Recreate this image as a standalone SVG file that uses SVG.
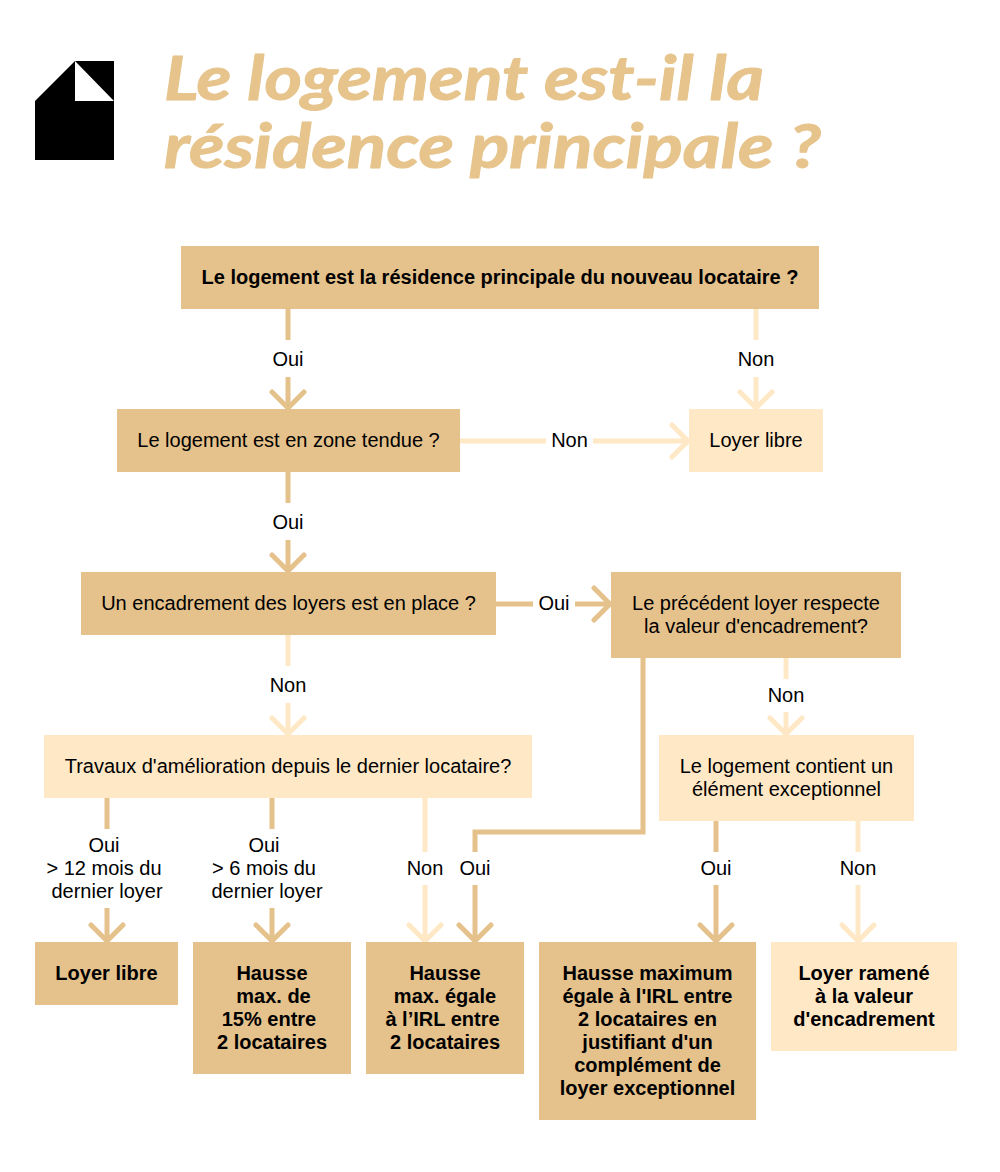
<svg xmlns="http://www.w3.org/2000/svg" width="1000" height="1172" viewBox="0 0 1000 1172">
<style>
text{font-family:"Liberation Sans",Arial,sans-serif;font-size:20px;fill:#000;text-anchor:middle}
.b{font-weight:bold}
.d{fill:#E5C28C}
.l{fill:#FFE8C6}
text.title{font-family:"Lato","Open Sans",sans-serif;font-size:62px;font-weight:700;font-style:italic;fill:#E6C48C;stroke:#E6C48C;stroke-width:1;stroke-linejoin:round;text-anchor:start}
.cd,.cl{fill:none;stroke-width:5}
.cd{stroke:#E5C28C}
.cl{stroke:#FFE8C6}
.ah{fill:none;stroke-width:5;stroke-linecap:round;stroke-linejoin:miter}
</style>
<defs>
<marker id="ad" markerUnits="userSpaceOnUse" markerWidth="24" markerHeight="40" refX="19" refY="20" orient="auto" viewBox="0 0 24 40"><path class="ah" stroke="#E5C28C" d="M3 4L19 20L3 36"/></marker>
<marker id="al" markerUnits="userSpaceOnUse" markerWidth="24" markerHeight="40" refX="19" refY="20" orient="auto" viewBox="0 0 24 40"><path class="ah" stroke="#FFE8C6" d="M3 4L19 20L3 36"/></marker>
</defs>
<rect width="1000" height="1172" fill="#fff"/>
<g id="logo"><path d="M35 101L75 61H114V160H35Z" fill="#000"/><path d="M75 61L114 101H75Z" fill="#fff"/></g>
<g id="title">
<text class="title" x="164" y="100" textLength="600" lengthAdjust="spacingAndGlyphs">Le logement est-il la</text>
<text class="title" x="164" y="168" textLength="657" lengthAdjust="spacingAndGlyphs">résidence principale ?</text>
</g>
<g id="connectors">
<path class="cd" d="M288 309V340"/><path class="cd" marker-end="url(#ad)" d="M288 377V408"/>
<path class="cl" d="M756 309V340"/><path class="cl" marker-end="url(#al)" d="M756 377V408"/>
<path class="cl" d="M460 441H546"/><path class="cl" marker-end="url(#al)" d="M593 441H688"/>
<path class="cd" d="M288 472V503"/><path class="cd" marker-end="url(#ad)" d="M288 540V571"/>
<path class="cd" d="M496 604H533"/><path class="cd" marker-end="url(#ad)" d="M575 604H610"/>
<path class="cl" d="M288 635V666"/><path class="cl" marker-end="url(#al)" d="M288 703V734"/>
<path class="cl" d="M786 658V679"/><path class="cl" marker-end="url(#al)" d="M786 712V734"/>
<path class="cd" d="M107 798V829"/><path class="cd" marker-end="url(#ad)" d="M107 908V941"/>
<path class="cd" d="M272 798V829"/><path class="cd" marker-end="url(#ad)" d="M272 908V941"/>
<path class="cl" d="M425 798V852"/><path class="cl" marker-end="url(#al)" d="M425 885V941"/>
<path class="cd" d="M643 658V832H475V852"/><path class="cd" marker-end="url(#ad)" d="M475 885V941"/>
<path class="cd" d="M716 821V852"/><path class="cd" marker-end="url(#ad)" d="M716 885V941"/>
<path class="cl" d="M858 821V852"/><path class="cl" marker-end="url(#al)" d="M858 885V941"/>
</g>
<g id="connector-labels">
<text x="288" y="366">Oui</text><text x="756" y="366">Non</text><text x="569.500" y="447">Non</text><text x="288" y="529">Oui</text><text x="554" y="610">Oui</text><text x="288" y="692">Non</text><text x="786" y="702">Non</text>
<text x="104" y="852">Oui</text><text x="104" y="875">&gt; 12 mois du</text><text x="107" y="898">dernier loyer</text>
<text x="264" y="852">Oui</text><text x="264" y="875">&gt; 6 mois du</text><text x="267" y="898">dernier loyer</text>
<text x="425" y="875">Non</text><text x="475" y="875">Oui</text><text x="716" y="875">Oui</text><text x="858" y="875">Non</text>
</g>
<g id="n1"><rect class="d" x="181" y="246" width="638" height="63"/><text class="b" x="500" y="284">Le logement est la résidence principale du nouveau locataire ?</text></g>
<g id="n2"><rect class="d" x="117" y="409" width="343" height="63"/><text x="288.500" y="447">Le logement est en zone tendue ?</text></g>
<g id="n3"><rect class="l" x="689" y="409" width="134" height="63"/><text x="756" y="447">Loyer libre</text></g>
<g id="n4"><rect class="d" x="81" y="572" width="415" height="63"/><text x="288.500" y="610">Un encadrement des loyers est en place ?</text></g>
<g id="n5"><rect class="d" x="611" y="572" width="290" height="86"/><text x="756" y="610">Le précédent loyer respecte</text><text x="756" y="633">la valeur d'encadrement?</text></g>
<g id="n6"><rect class="l" x="44" y="735" width="488" height="63"/><text x="288" y="773">Travaux d'amélioration depuis le dernier locataire?</text></g>
<g id="n7"><rect class="l" x="659" y="735" width="255" height="86"/><text x="786.500" y="773">Le logement contient un</text><text x="786.500" y="796">élément exceptionnel</text></g>
<g id="n8"><rect class="d" x="35" y="942" width="143" height="63"/><text class="b" x="106.500" y="980">Loyer libre</text></g>
<g id="n9"><rect class="d" x="193" y="942" width="158" height="132"/><text class="b" x="272" y="980">Hausse</text><text class="b" x="273.500" y="1003">max. de</text><text class="b" x="269" y="1026">15% entre</text><text class="b" x="272" y="1049">2 locataires</text></g>
<g id="n10"><rect class="d" x="366" y="942" width="158" height="132"/><text class="b" x="445" y="980">Hausse</text><text class="b" x="445" y="1003">max. égale</text><text class="b" x="442.500" y="1026">à l’IRL entre</text><text class="b" x="445" y="1049">2 locataires</text></g>
<g id="n11"><rect class="d" x="539" y="942" width="217" height="178"/><text class="b" x="647.500" y="980">Hausse maximum</text><text class="b" x="647.500" y="1003">égale à l'IRL entre</text><text class="b" x="647.500" y="1026">2 locataires en</text><text class="b" x="647.500" y="1049">justifiant d'un</text><text class="b" x="647.500" y="1072">complément de</text><text class="b" x="647.500" y="1095">loyer exceptionnel</text></g>
<g id="n12"><rect class="l" x="771" y="942" width="186" height="109"/><text class="b" x="864" y="980">Loyer ramené</text><text class="b" x="864" y="1003">à la valeur</text><text class="b" x="864" y="1026">d'encadrement</text></g>
</svg>
